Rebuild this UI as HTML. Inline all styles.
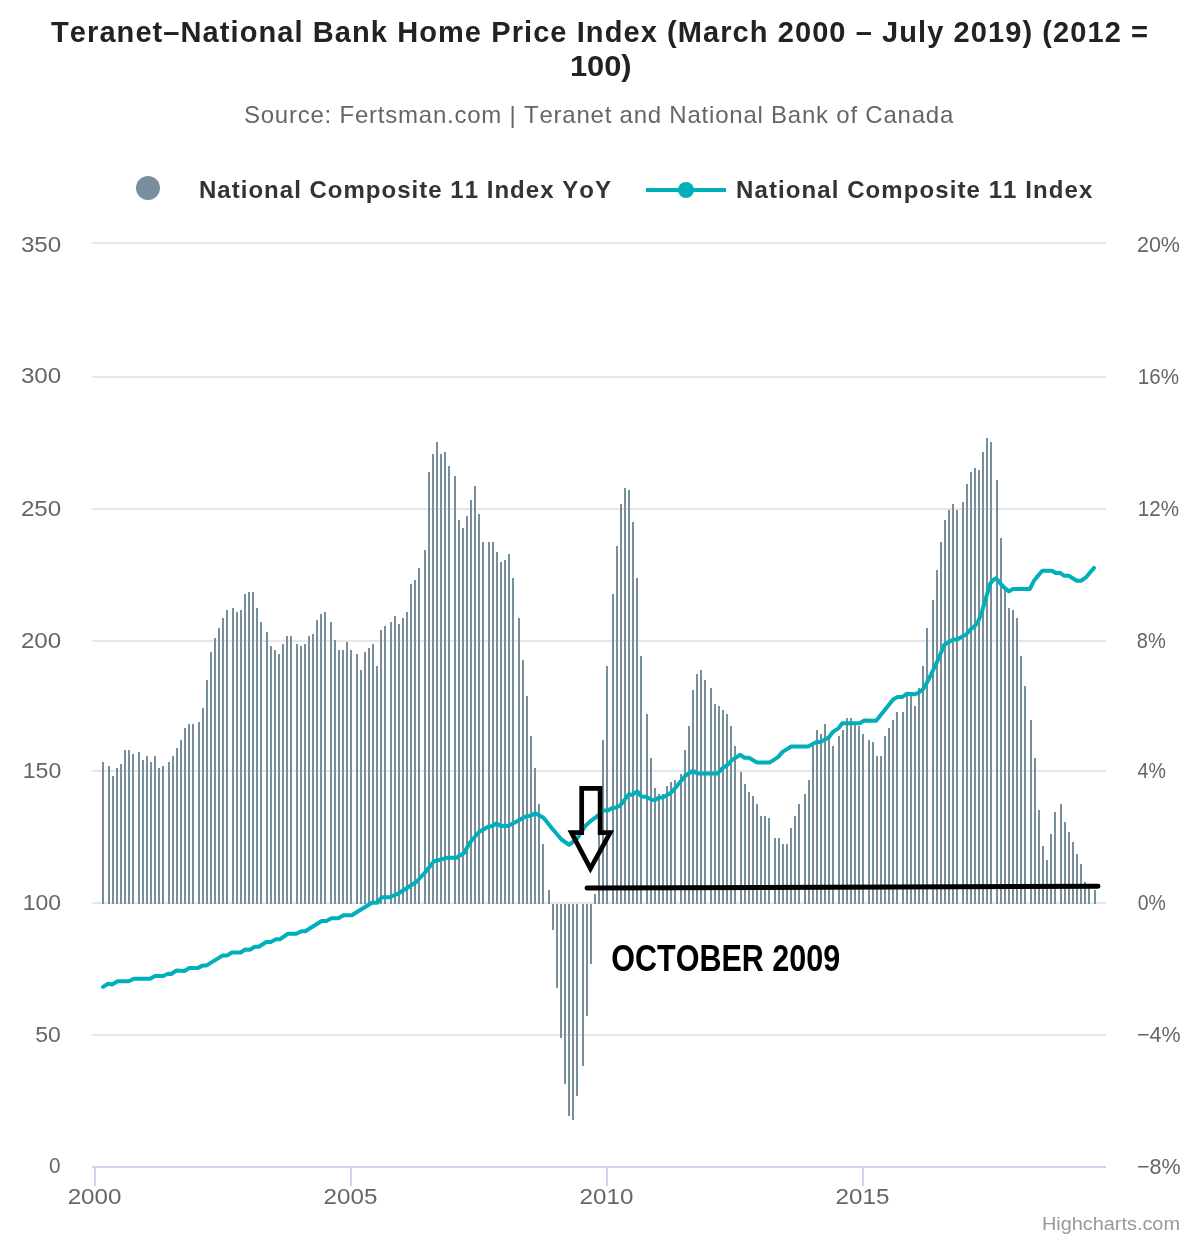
<!DOCTYPE html>
<html><head><meta charset="utf-8"><title>Teranet-National Bank Home Price Index</title>
<style>
html,body{margin:0;padding:0;background:#fff;}
body{width:1200px;height:1240px;overflow:hidden;}
svg{display:block;will-change:transform;font-kerning:none;font-family:"Liberation Sans", sans-serif;}
</style></head><body>
<svg width="1200" height="1240" viewBox="0 0 1200 1240">
<rect width="1200" height="1240" fill="#fff"/>
<text x="51.00" y="41.8" font-size="29" font-weight="bold" fill="#222" textLength="1097.01" lengthAdjust="spacing">Teranet–National Bank Home Price Index (March 2000 – July 2019) (2012 =</text><text x="569.94" y="75.8" font-size="29" font-weight="bold" fill="#222" textLength="61.67" lengthAdjust="spacingAndGlyphs">100)</text><text x="243.90" y="123.3" font-size="24" fill="#666" textLength="709.35" lengthAdjust="spacing">Source: Fertsman.com | Teranet and National Bank of Canada</text>
<circle cx="148" cy="188" r="12" fill="#788f9b"/>
<rect x="646" y="188" width="80" height="4" fill="#00afb9"/>
<circle cx="686" cy="190" r="8" fill="#00afb9"/>
<text x="199.00" y="197.8" font-size="24" font-weight="bold" fill="#333" textLength="411.92" lengthAdjust="spacing">National Composite 11 Index YoY</text><text x="736.10" y="197.8" font-size="24" font-weight="bold" fill="#333" textLength="356.18" lengthAdjust="spacing">National Composite 11 Index</text>
<g id="grid"><rect x="92" y="242" width="1014" height="2" fill="#e6e6e6"/><rect x="92" y="376" width="1014" height="2" fill="#e6e6e6"/><rect x="92" y="508" width="1014" height="2" fill="#e6e6e6"/><rect x="92" y="640" width="1014" height="2" fill="#e6e6e6"/><rect x="92" y="770" width="1014" height="2" fill="#e6e6e6"/><rect x="92" y="902" width="1014" height="2" fill="#e6e6e6"/><rect x="92" y="1034" width="1014" height="2" fill="#e6e6e6"/></g>
<rect x="92" y="1166" width="1014" height="2" fill="#ccd6eb"/>
<rect x="94" y="1166" width="2" height="20" fill="#ccd6eb"/><rect x="350" y="1166" width="2" height="20" fill="#ccd6eb"/><rect x="606" y="1166" width="2" height="20" fill="#ccd6eb"/><rect x="862" y="1166" width="2" height="20" fill="#ccd6eb"/>
<text x="20.90" y="251.5" font-size="22" fill="#666" textLength="40.39" lengthAdjust="spacingAndGlyphs">350</text><text x="20.90" y="383.3" font-size="22" fill="#666" textLength="40.39" lengthAdjust="spacingAndGlyphs">300</text><text x="20.90" y="515.5" font-size="22" fill="#666" textLength="40.39" lengthAdjust="spacingAndGlyphs">250</text><text x="20.90" y="647.5" font-size="22" fill="#666" textLength="40.39" lengthAdjust="spacingAndGlyphs">200</text><text x="22.70" y="777.5" font-size="22" fill="#666" textLength="38.55" lengthAdjust="spacingAndGlyphs">150</text><text x="22.71" y="909.5" font-size="22" fill="#666" textLength="38.34" lengthAdjust="spacingAndGlyphs">100</text><text x="35.20" y="1041.5" font-size="22" fill="#666" textLength="25.60" lengthAdjust="spacingAndGlyphs">50</text><text x="49.00" y="1173.3" font-size="22" fill="#666" textLength="11.54" lengthAdjust="spacingAndGlyphs">0</text><text x="1136.92" y="251.5" font-size="22" fill="#666" textLength="43.12" lengthAdjust="spacingAndGlyphs">20%</text><text x="1137.81" y="383.5" font-size="22" fill="#666" textLength="41.23" lengthAdjust="spacingAndGlyphs">16%</text><text x="1137.81" y="515.5" font-size="22" fill="#666" textLength="41.23" lengthAdjust="spacingAndGlyphs">12%</text><text x="1136.84" y="647.5" font-size="22" fill="#666" textLength="28.98" lengthAdjust="spacingAndGlyphs">8%</text><text x="1137.50" y="777.5" font-size="22" fill="#666" textLength="28.32" lengthAdjust="spacingAndGlyphs">4%</text><text x="1137.75" y="909.5" font-size="22" fill="#666" textLength="28.07" lengthAdjust="spacingAndGlyphs">0%</text><text x="1137.02" y="1041.5" font-size="22" fill="#666" textLength="43.62" lengthAdjust="spacingAndGlyphs">−4%</text><text x="1136.92" y="1173.5" font-size="22" fill="#666" textLength="43.72" lengthAdjust="spacingAndGlyphs">−8%</text><text x="67.65" y="1203.6" font-size="22" fill="#666" textLength="53.85" lengthAdjust="spacingAndGlyphs">2000</text><text x="323.50" y="1203.6" font-size="22" fill="#666" textLength="53.85" lengthAdjust="spacingAndGlyphs">2005</text><text x="579.50" y="1203.6" font-size="22" fill="#666" textLength="53.85" lengthAdjust="spacingAndGlyphs">2010</text><text x="835.50" y="1203.6" font-size="22" fill="#666" textLength="53.85" lengthAdjust="spacingAndGlyphs">2015</text>
<path id="bars" d="M102 762h2V904h-2ZM108 766h2V904h-2ZM112 776h2V904h-2ZM116 768h2V904h-2ZM120 764h2V904h-2ZM124 750h2V904h-2ZM128 750h2V904h-2ZM132 754h2V904h-2ZM138 752h2V904h-2ZM142 760h2V904h-2ZM146 756h2V904h-2ZM150 762h2V904h-2ZM154 756h2V904h-2ZM158 768h2V904h-2ZM162 766h2V904h-2ZM168 762h2V904h-2ZM172 756h2V904h-2ZM176 748h2V904h-2ZM180 740h2V904h-2ZM184 728h2V904h-2ZM188 724h2V904h-2ZM192 724h2V904h-2ZM198 722h2V904h-2ZM202 708h2V904h-2ZM206 680h2V904h-2ZM210 652h2V904h-2ZM214 638h2V904h-2ZM218 628h2V904h-2ZM222 618h2V904h-2ZM226 610h2V904h-2ZM232 608h2V904h-2ZM236 612h2V904h-2ZM240 610h2V904h-2ZM244 594h2V904h-2ZM248 592h2V904h-2ZM252 592h2V904h-2ZM256 608h2V904h-2ZM260 622h2V904h-2ZM266 632h2V904h-2ZM270 646h2V904h-2ZM274 650h2V904h-2ZM278 654h2V904h-2ZM282 644h2V904h-2ZM286 636h2V904h-2ZM290 636h2V904h-2ZM296 644h2V904h-2ZM300 646h2V904h-2ZM304 644h2V904h-2ZM308 636h2V904h-2ZM312 634h2V904h-2ZM316 620h2V904h-2ZM320 614h2V904h-2ZM324 612h2V904h-2ZM330 622h2V904h-2ZM334 640h2V904h-2ZM338 650h2V904h-2ZM342 650h2V904h-2ZM346 642h2V904h-2ZM350 650h2V904h-2ZM356 654h2V904h-2ZM360 670h2V904h-2ZM364 652h2V904h-2ZM368 648h2V904h-2ZM372 644h2V904h-2ZM376 666h2V904h-2ZM380 630h2V904h-2ZM384 626h2V904h-2ZM390 622h2V904h-2ZM394 616h2V904h-2ZM398 624h2V904h-2ZM402 618h2V904h-2ZM406 612h2V904h-2ZM410 584h2V904h-2ZM414 580h2V904h-2ZM418 568h2V904h-2ZM424 550h2V904h-2ZM428 472h2V904h-2ZM432 454h2V904h-2ZM436 442h2V904h-2ZM440 454h2V904h-2ZM444 452h2V904h-2ZM448 466h2V904h-2ZM454 476h2V904h-2ZM458 520h2V904h-2ZM462 528h2V904h-2ZM466 516h2V904h-2ZM470 500h2V904h-2ZM474 486h2V904h-2ZM478 514h2V904h-2ZM482 542h2V904h-2ZM488 542h2V904h-2ZM492 542h2V904h-2ZM496 552h2V904h-2ZM500 562h2V904h-2ZM504 560h2V904h-2ZM508 554h2V904h-2ZM512 578h2V904h-2ZM518 618h2V904h-2ZM522 660h2V904h-2ZM526 696h2V904h-2ZM530 736h2V904h-2ZM534 768h2V904h-2ZM538 804h2V904h-2ZM542 844h2V904h-2ZM548 890h2V904h-2ZM552 904h2V930h-2ZM556 904h2V988h-2ZM560 904h2V1038h-2ZM564 904h2V1084h-2ZM568 904h2V1116h-2ZM572 904h2V1120h-2ZM576 904h2V1096h-2ZM582 904h2V1066h-2ZM586 904h2V1016h-2ZM590 904h2V964h-2ZM594 894h2V904h-2ZM598 818h2V904h-2ZM602 740h2V904h-2ZM606 666h2V904h-2ZM612 594h2V904h-2ZM616 546h2V904h-2ZM620 504h2V904h-2ZM624 488h2V904h-2ZM628 490h2V904h-2ZM632 522h2V904h-2ZM636 578h2V904h-2ZM640 656h2V904h-2ZM646 714h2V904h-2ZM650 758h2V904h-2ZM654 788h2V904h-2ZM658 794h2V904h-2ZM662 794h2V904h-2ZM666 786h2V904h-2ZM670 782h2V904h-2ZM674 780h2V904h-2ZM680 774h2V904h-2ZM684 750h2V904h-2ZM688 726h2V904h-2ZM692 690h2V904h-2ZM696 674h2V904h-2ZM700 670h2V904h-2ZM704 680h2V904h-2ZM710 688h2V904h-2ZM714 704h2V904h-2ZM718 706h2V904h-2ZM722 710h2V904h-2ZM726 714h2V904h-2ZM730 726h2V904h-2ZM734 746h2V904h-2ZM740 772h2V904h-2ZM744 784h2V904h-2ZM748 792h2V904h-2ZM752 796h2V904h-2ZM756 804h2V904h-2ZM760 816h2V904h-2ZM764 816h2V904h-2ZM768 818h2V904h-2ZM774 838h2V904h-2ZM778 838h2V904h-2ZM782 844h2V904h-2ZM786 844h2V904h-2ZM790 828h2V904h-2ZM794 816h2V904h-2ZM798 804h2V904h-2ZM804 794h2V904h-2ZM808 780h2V904h-2ZM812 746h2V904h-2ZM816 730h2V904h-2ZM820 734h2V904h-2ZM824 724h2V904h-2ZM828 738h2V904h-2ZM832 746h2V904h-2ZM838 736h2V904h-2ZM842 730h2V904h-2ZM846 718h2V904h-2ZM850 718h2V904h-2ZM854 722h2V904h-2ZM858 726h2V904h-2ZM862 734h2V904h-2ZM868 740h2V904h-2ZM872 742h2V904h-2ZM876 756h2V904h-2ZM880 756h2V904h-2ZM884 736h2V904h-2ZM888 728h2V904h-2ZM892 720h2V904h-2ZM896 712h2V904h-2ZM902 712h2V904h-2ZM906 694h2V904h-2ZM910 692h2V904h-2ZM914 706h2V904h-2ZM918 688h2V904h-2ZM922 666h2V904h-2ZM926 628h2V904h-2ZM932 600h2V904h-2ZM936 570h2V904h-2ZM940 542h2V904h-2ZM944 520h2V904h-2ZM948 510h2V904h-2ZM952 504h2V904h-2ZM956 510h2V904h-2ZM962 502h2V904h-2ZM966 484h2V904h-2ZM970 472h2V904h-2ZM974 468h2V904h-2ZM978 470h2V904h-2ZM982 452h2V904h-2ZM986 438h2V904h-2ZM990 442h2V904h-2ZM996 480h2V904h-2ZM1000 538h2V904h-2ZM1004 586h2V904h-2ZM1008 608h2V904h-2ZM1012 610h2V904h-2ZM1016 618h2V904h-2ZM1020 656h2V904h-2ZM1024 686h2V904h-2ZM1030 720h2V904h-2ZM1034 758h2V904h-2ZM1038 810h2V904h-2ZM1042 846h2V904h-2ZM1046 860h2V904h-2ZM1050 834h2V904h-2ZM1054 812h2V904h-2ZM1060 804h2V904h-2ZM1064 822h2V904h-2ZM1068 832h2V904h-2ZM1072 842h2V904h-2ZM1076 854h2V904h-2ZM1080 864h2V904h-2ZM1084 882h2V904h-2ZM1088 886h2V904h-2ZM1094 890h2V904h-2Z" fill="#788f9b"/>
<path id="line" d="M103.1 986.9 L108.1 983.75 L112.5 984.4 L117.5 981.25 L128.75 981.25 L133.75 978.75 L150 978.75 L155 976 L163.1 976 L168.1 973.75 L171.25 974 L176.25 970.6 L184.4 971 L189.4 968.1 L197.5 968.1 L202.5 965.6 L206.25 965.6 L222.5 955.6 L226.9 955.6 L231.9 952.5 L240.6 952.5 L245.25 949.5 L249.75 949.8 L255 946.8 L258.75 946.8 L266.25 942 L270.75 942 L276 939.3 L279.75 939.3 L288 933.75 L296.25 933.75 L301.5 931.2 L305.25 931.2 L321.75 921 L326.25 921 L331.5 918.3 L338.25 918.3 L343.5 915.3 L351.75 915.3 L372 902.7 L377.25 902.7 L381.75 897.3 L389.25 897.3 L397.5 894 L405 889.2 L410 886 L416 882.25 L425 872.5 L434 861.25 L440 859.75 L446.75 857.8 L456.5 857.8 L464 853 L470 842.5 L479 832 L488 826.75 L492.5 826 L496.7 823.3 L500.75 826 L508.25 826 L518 820.75 L526.25 816.25 L530.75 815.8 L535.25 813.25 L543.5 817.75 L552.5 829 L561.5 839.5 L569 844.75 L576.5 839.5 L585.3 826 L590 821.6 L597.3 816.1 L603.7 810.6 L607.4 810.6 L612.9 807.8 L615.7 807.8 L620.2 805.5 L629 794.1 L632.2 795 L637.2 791.3 L641.3 796.4 L645.9 796.8 L652.3 800 L655.1 800 L658.7 797.7 L663.3 797.3 L669.7 793.6 L672.5 791.3 L685.3 775.7 L692.9 770.8 L697.4 773.6 L717.4 773.6 L722.6 768.1 L727.7 764.8 L731.6 760.3 L740 754.8 L744.5 757.7 L749 757.7 L757.1 762.6 L769.4 762.6 L777.7 757.4 L782.9 751.6 L791.3 746.5 L808.1 746.5 L816.5 741.9 L820.3 741.9 L828.7 737.4 L833.2 731.6 L838.4 728.4 L842.3 723.2 L859.7 723.2 L864.2 720.6 L876.1 720.8 L884.2 710.8 L893.1 699.5 L897.4 697 L902.3 697 L906.7 693.8 L915.2 694.2 L919.2 692.2 L923.2 689 L927.3 682 L931.3 674 L938.5 658.7 L944.2 645 L948.2 642.2 L953.9 639.4 L957.1 639.4 L966 634.5 L970 630.1 L974.8 626 L978.1 621.6 L982.1 611.1 L986.1 597.4 L990.2 583.7 L992.6 580.5 L996.2 578.2 L1000.8 584 L1004.7 588.1 L1009 591.4 L1012.9 589 L1029.8 589 L1034 580.7 L1038 575.7 L1042.3 570.7 L1052 570.7 L1055.7 573 L1059.7 572.7 L1064 575.7 L1068.7 575.7 L1076.7 580.7 L1081.3 580.7 L1086 577.3 L1094 567.9" fill="none" stroke="#00afb9" stroke-width="4" stroke-linejoin="round" stroke-linecap="round"/>
<path d="M581.7 788.4 L600.1 788.4 L600.1 832.6 L610.2 832.6 L590.4 868.6 L571.4 832.6 L581.7 832.6 Z" fill="none" stroke="#000" stroke-width="4.7" stroke-linejoin="miter"/>
<line x1="587" y1="888" x2="1098" y2="886.3" stroke="#000" stroke-width="5" stroke-linecap="round"/>
<text x="611.35" y="971.4" font-size="36" font-weight="bold" fill="#000" textLength="228.87" lengthAdjust="spacingAndGlyphs">OCTOBER 2009</text><text x="1041.90" y="1229.8" font-size="18" fill="#999" textLength="138.06" lengthAdjust="spacingAndGlyphs">Highcharts.com</text>
</svg>
</body></html>
